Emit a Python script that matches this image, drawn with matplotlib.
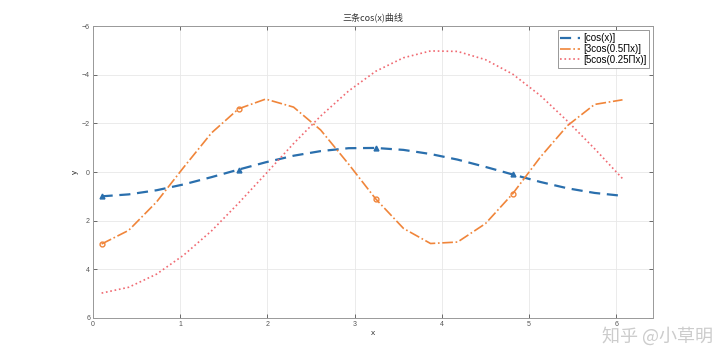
import numpy as np
import matplotlib
matplotlib.use('Agg')
import matplotlib.pyplot as plt

plt.rcParams['font.family'] = ['Liberation Sans', 'Noto Sans CJK SC', 'DejaVu Sans']

# x samples: 0.1 : pi/10 : 0.1 + 1.9*pi (20 points)
x = np.array([0.10, 0.41, 0.73, 1.04, 1.36, 1.67, 1.98, 2.30, 2.61, 2.93,
              3.24, 3.56, 3.87, 4.18, 4.50, 4.81, 5.13, 5.44, 5.75, 6.07])
y_cos = np.array([1.00, 0.92, 0.75, 0.51, 0.21, -0.10, -0.40, -0.67, -0.86, -0.98,
                  -0.99, -0.91, -0.74, -0.51, -0.21, 0.10, 0.41, 0.67, 0.86, 0.98])
y_3cos = np.array([2.96, 2.40, 1.23, -0.19, -1.61, -2.60, -3.00, -2.67, -1.73, -0.33,
                   1.10, 2.32, 2.94, 2.88, 2.12, 0.90, -0.62, -1.91, -2.78, -2.97])
y_5cos = np.array([4.98, 4.74, 4.20, 3.42, 2.42, 1.28, 0.08, -1.17, -2.30, -3.33,
                   -4.14, -4.70, -4.98, -4.96, -4.62, -4.03, -3.14, -2.09, -0.96, 0.27])
labels = ['[cos(x)]', '[3cos(0.5\u03a0x)]', '[5cos(0.25\u03a0x)]']
xticks = [0, 1, 2, 3, 4, 5, 6]
yticks = [-6, -4, -2, 0, 2, 4, 6]

fig = plt.figure(figsize=(7.2, 3.58), dpi=100)
ax = fig.add_axes([0.129, 0.112, 0.778, 0.815])

c_blue, c_orange, c_pink = '#2a6fad', '#f0853a', '#f06a72'

ax.plot(x, y_cos, color=c_blue, lw=1.6, dashes=(5, 3), label=labels[0])
ax.plot(x, y_3cos, '-.', color=c_orange, lw=1.2, label=labels[1])
ax.plot(x, y_5cos, ':', color=c_pink, lw=1.2, label=labels[2])

# markers every fifth sample
ax.plot(x[::5], y_cos[::5], '^', color=c_blue, ms=3.5, ls='none')
ax.plot(x[::5], y_3cos[::5], 'o', color=c_orange, ms=3.5, mfc='none', mew=1, ls='none')

ax.set_xlim(0, 6.42)
ax.set_ylim(6, -6)
ax.set_xticks(xticks)
ax.set_yticks(yticks)
ax.tick_params(direction='in', length=3, width=0.6, labelsize=5,
               colors='#555555', top=True, right=True, pad=2)
ax.grid(True, color='#e8e8e8', lw=0.6)
for s in ax.spines.values():
    s.set_color('#999999')
    s.set_linewidth(0.7)

ax.set_title('三条cos(x)曲线', fontsize=6.5, color='#333333', pad=4,
             family=['Noto Sans CJK SC'])
ax.set_xlabel('x', fontsize=6, color='#333333', labelpad=2)
ax.set_ylabel('y', fontsize=6, color='#333333', labelpad=2)

leg = ax.legend(loc='upper right', fontsize=7, handlelength=2.0,
                handletextpad=0.3, borderpad=0.3, labelspacing=0.1,
                fancybox=False, framealpha=1, borderaxespad=0.4)
leg.get_frame().set_edgecolor('#888888')
leg.get_frame().set_linewidth(0.6)

fig.text(0.99, 0.035, '知乎 @小草明', ha='right', va='bottom', fontsize=13,
         color='#cccccc', family=['Noto Sans CJK SC'])

fig.savefig('out.png', dpi=100)
